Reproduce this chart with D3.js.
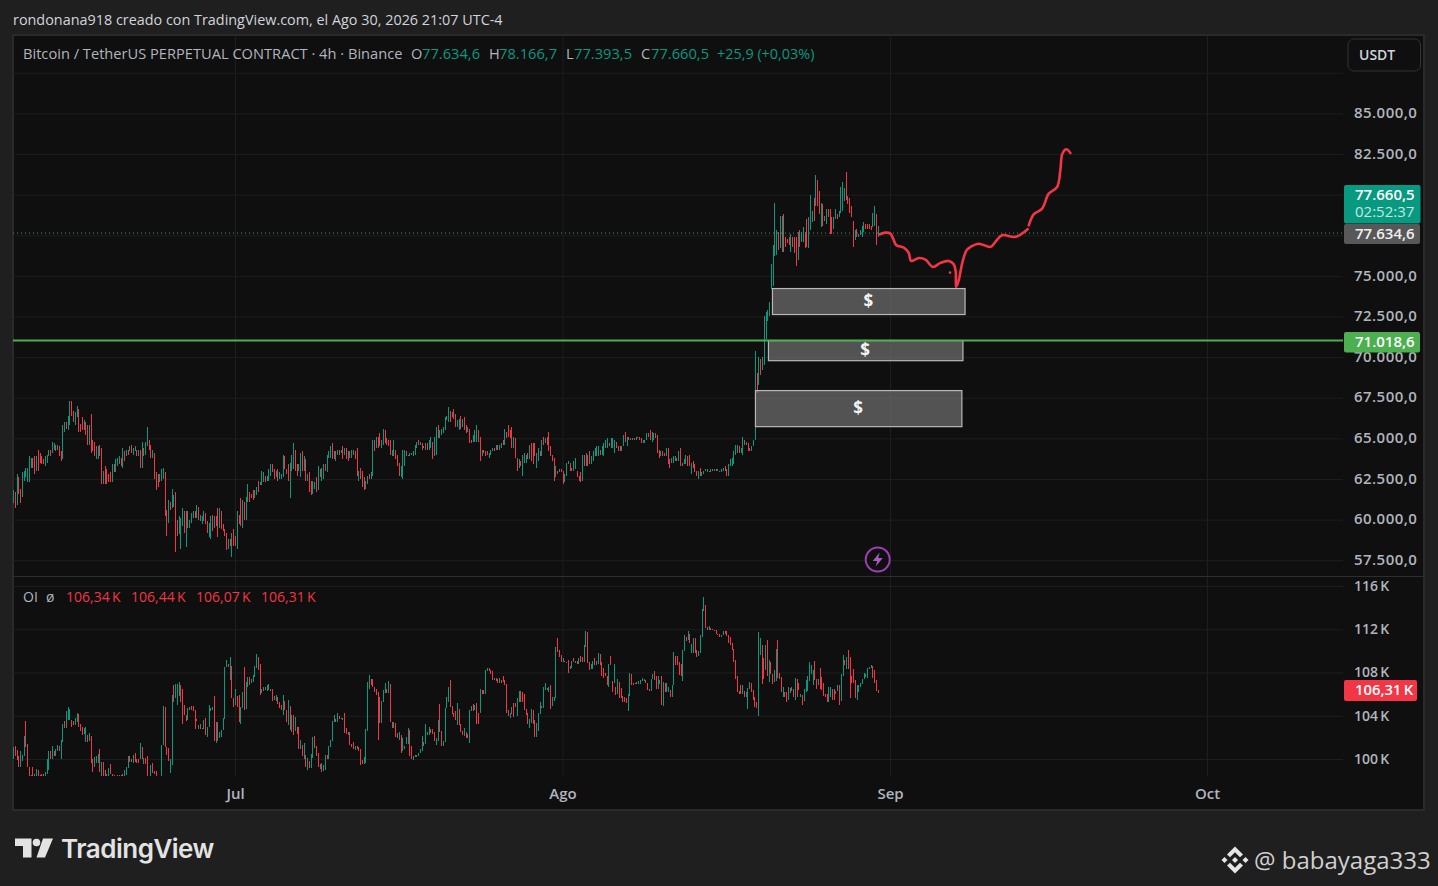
<!DOCTYPE html>
<html>
<head>
<meta charset="utf-8">
<title>BTCUSDT.P 4h</title>
<script src="https://cdnjs.cloudflare.com/ajax/libs/d3/7.8.5/d3.min.js"></script>
<style>
  html, body { margin: 0; background: #1f1f1f; overflow: hidden; }
  text { font-family: "Open Sans", sans-serif; }
</style>
</head>
<body>
<div class="chart"></div>
<script>
// each bar is [from, to]: from->to rising is teal, falling is red. price in thousands USDT
const priceJun = [[61.0,61.8],[61.7,60.7],[60.9,62.8],[62.6,61.6],[61.9,61.0],[61.4,62.9],[62.4,63.0],[62.6,63.2],[62.3,63.2],[62.3,63.9],
  [63.2,63.8],[63.8,63.2],[63.9,62.8],[63.0,63.9],[64.3,63.0],[64.1,63.5],[63.9,63.4],[63.7,63.4],[63.3,63.9],[63.5,64.0],
  [63.9,64.3],[64.3,63.9],[64.1,64.8],[64.3,64.7],[64.6,64.2],[64.3,64.6],[64.5,63.9],[64.2,63.6],[63.7,65.8],[65.4,66.0],
  [66.0,65.6],[65.5,66.4],[65.8,67.3],[67.3,66.4],[66.7,66.0],[65.8,66.6],[66.3,67.0],[66.8,65.4],[65.9,65.4],[66.3,65.5],[65.5,66.1],
  [66.0,65.2],[65.8,64.6],[64.6,65.8],[66.5,64.1],[64.9,64.2],[64.8,63.9],[63.7,64.5],[63.7,64.5],[64.6,63.9],[64.4,62.2],[62.2,63.0],
  [63.3,62.2],[63.1,62.2],[62.8,62.3],[62.9,62.3],[62.3,63.4],[63.4,62.9],[62.9,63.7],[63.3,63.8],[63.4,63.9],[63.8,63.3],[63.2,64.4],[64.2,63.6],
  [63.9,64.3],[64.3,64.0],[64.2,64.5],[64.6,64.1],[64.0,64.4],[64.2,64.5],[64.3,63.9],[63.9,64.3],[64.3,63.2],[63.2,64.8],[64.4,63.9],
  [64.0,64.8],[64.5,65.7],[64.9,64.3],[64.6,63.8],[63.8,64.3],[64.1,62.5],[62.9,61.8],[62.8,62.0],[62.3,62.8],
  [62.4,63.1],[62.5,63.2],[62.9,60.2],[60.6,59.0],[59.8,61.2],[61.1,60.6],[60.7,61.9],[60.8,61.5],
  [61.7,58.0],[60.0,59.0],[59.1,60.2],[58.2,60.1],[59.6,60.7],[60.5,59.2],[58.3,60.5],[60.5,59.5],[59.5,60.0],[59.8,60.4],
  [60.1,60.5],[60.5,60.1],[60.1,60.9],[60.8,60.0],[59.9,60.3],[59.7,60.2],[59.9,60.5],[60.4,59.7],[59.9,59.2],
  [58.9,59.8],[58.8,60.2],[60.3,59.3],[59.5,60.2],[60.2,59.6],[60.7,58.9],[59.5,60.7],[60.5,59.4],[59.7,59.3],
  [59.4,59.0],[59.2,58.1],[58.2,58.8],[58.8,58.4],[57.7,59.2],[59.4,58.4]];

const priceJul = [[59.0,58.4],[58.2,60.5],[60.3,59.7],[61.3,59.6],[59.5,61.2],[61.1,60.0],[60.0,61.4],[61.1,62.2],[61.7,61.1],[61.6,61.3],
  [61.8,61.2],[61.3,61.8],[61.5,62.0],[62.4,61.7],[62.1,62.3],[62.1,63.0],[62.3,62.9],[62.7,62.3],[62.4,62.7],[62.4,63.1],
  [62.7,63.4],[63.4,62.9],[63.1,62.5],[62.6,63.0],[63.1,62.4],[62.5,62.9],[62.5,62.8],[62.6,64.0],[63.9,63.1],[63.1,62.8],
  [63.4,62.4],[61.3,63.5],[63.0,64.0],[63.1,64.7],[64.3,63.0],[63.4,62.7],[63.0,63.4],[62.6,64.1],[64.2,63.0],[63.0,63.9],
  [63.7,62.4],[62.4,62.8],[62.9,61.7],[62.4,61.5],[61.6,62.4],[61.9,62.3],[62.6,61.7],[61.8,63.3],[63.1,62.6],[62.4,63.2],
  [62.5,63.4],[63.4,63.0],[62.9,64.0],[63.8,64.2],[63.8,64.5],[64.7,63.7],[64.2,63.7],[63.6,64.2],[64.0,64.3],[64.3,64.0],
  [64.1,64.3],[64.5,63.7],[64.0,64.4],[64.4,63.7],[64.2,63.6],[63.8,64.2],[63.8,64.3],[64.0,64.3],[64.2,63.7],[64.4,62.7],
  [62.4,63.0],[63.2,62.5],[63.0,62.0],[62.6,61.8],[61.9,62.4],[62.2,62.7],[62.8,62.5],[62.5,62.9],[62.7,64.9],[64.9,64.2],
  [64.4,65.1],[65.1,64.4],[65.3,64.5],[64.4,64.9],[64.6,65.6],[65.5,64.7],[65.0,64.6],[64.9,64.5],[64.9,64.0],[63.9,64.3],
  [63.9,64.9],[64.3,63.7],[64.0,63.3],[63.5,62.7],[62.6,63.3],[62.5,64.3],[63.3,64.3],[64.2,63.9],[64.0,63.9],[63.9,64.1],
  [64.0,64.1],[63.9,64.2],[64.0,64.6],[64.4,64.8],[64.9,64.6],[64.6,64.8],[64.7,64.3],[64.5,64.4],[64.3,64.7],[64.7,64.3],[64.3,64.9],
  [64.4,65.1],[64.8,63.7],[63.9,65.1],[64.0,65.7],[65.8,65.0],[65.0,65.5],[65.2,65.6],[65.3,65.7],[65.5,66.3],[66.1,66.4],[66.0,66.9],
  [66.7,66.0],[66.3,66.6],[66.8,66.2],[66.5,65.7],[65.7,66.1],[65.5,66.2],[66.4,65.6],[65.7,66.2],[66.3,65.5],[65.8,65.3],
  [65.4,65.7],[65.6,64.7],[64.9,64.7],[64.8,65.2],[64.8,65.5],[64.8,65.8],[65.5,64.8],[65.1,63.6],[63.9,64.3],[64.3,64.1],
  [64.2,63.9],[64.2,64.0],[63.8,64.1],[64.0,64.3],[64.2,64.4],[64.4,64.2],[64.3,64.6],[64.6,64.3],[64.3,64.6],[64.4,64.7],
  [64.9,64.6],[64.6,65.6],[65.4,65.0],[65.8,65.1],[65.5,65.0],[65.7,64.4],[64.4,65.1],[65.0,63.8],[63.8,63.0],[63.2,63.7],
  [63.6,63.3],[62.7,64.0],[63.5,64.1],[63.5,64.0],[64.1,63.7],[63.7,64.6],[64.7,63.6],[64.7,63.4],[64.7,63.9],[63.2,64.1],
  [63.6,64.4],[64.2,63.9],[63.9,64.9],[65.1,64.6],[64.7,65.0],[65.1,64.6],[65.4,64.2],[64.5,63.9],[64.0,63.6],[63.8,62.4],
  [62.6,63.3],[63.0,62.8],[62.9,63.1],[63.1,62.9]];

const priceAug = [[63.0,62.2],[62.3,62.8],[62.7,63.5],[63.4,63.6],[63.5,63.0],[63.2,63.0],[63.0,63.6],[63.1,63.8],[63.0,62.6],[62.7,62.4],
  [62.9,62.3],[62.4,64.0],[64.0,63.3],[63.3,64.1],[64.0,63.3],[64.2,63.4],[63.4,63.9],[63.6,64.2],[63.9,64.4],[63.9,64.5],
  [63.9,64.5],[64.3,64.0],[64.0,64.5],[63.9,64.7],[64.4,64.9],[64.4,65.0],[64.7,64.5],[64.4,65.0],[64.4,65.0],[64.1,64.9],
  [64.8,64.4],[64.5,64.2],[64.5,64.2],[64.2,64.5],[64.5,65.2],[65.4,64.8],[64.5,65.1],[65.1,64.9],[64.9,65.0],[65.0,64.9],
  [64.9,65.0],[64.9,65.1],[65.1,65.0],[65.1,64.9],[65.0,64.7],[64.7,64.9],[64.7,64.9],[64.9,65.3],[65.3,65.1],[65.5,64.9],
  [64.8,65.4],[64.9,65.3],[65.3,65.0],[65.2,64.1],[64.3,63.8],[63.9,64.2],[64.2,63.9],[64.1,63.9],[63.9,64.4],[64.4,63.4],
  [63.7,63.2],[63.5,63.8],[63.5,63.9],[63.6,63.9],[63.8,63.6],[63.6,64.2],[64.4,63.3],[63.3,63.5],[63.4,63.7],[63.4,64.0],[63.9,63.3],
  [64.0,63.3],[62.8,63.5],[63.6,63.2],[63.4,62.9],[63.0,62.7],[62.5,63.0],[63.2,62.7],[62.7,62.9],[62.8,63.0],[63.0,63.1],[62.9,63.1],
  [63.0,62.9],[62.9,63.1],[63.1,63.0],[63.0,63.1],[63.1,63.0],[63.0,63.1],[62.9,63.0],[62.9,63.1],[63.0,63.2],[63.3,63.0],[63.1,62.7],[62.7,63.4],
  [63.3,63.7],[63.3,63.8],[63.4,64.2],[64.0,64.6],[64.1,64.6],[64.5,64.1],[64.1,64.4],[64.0,65.1],[64.9,64.6],[64.6,64.8],
  [64.7,64.2],[64.4,64.2],[64.2,64.5],[64.5,64.9],
  [64.9,70.4],[69.0,67.8],[68.3,70.0],[69.9,68.9],[69.2,70.0],[69.5,72.5],[71.1,72.8],[72.2,72.9],[72.5,73.4],[74.2,75.7],
  [74.4,76.9],[76.2,79.5],[76.3,77.8],[77.7,76.6],[76.7,78.7],[76.5,78.7],[78.8,76.5],[77.4,76.8],[77.3,77.0],[77.4,76.9],[76.5,77.6],
  [77.4,76.8],[77.4,76.4],[77.4,75.6],[76.0,77.7],[77.8,76.8],[77.1,77.7],[77.1,78.0],[77.7,76.7],[78.5,76.8],[76.7,78.6],
  [77.8,80.0],[78.3,79.0],[79.8,78.4],[79.3,81.2],[80.9,79.3],[80.2,78.8],[78.0,79.5],[79.4,78.1],[78.4,78.7],[78.2,79.1],
  [79.1,78.6],[79.1,77.6],[78.6,77.6],[77.9,78.6],[78.5,79.1],[78.8,78.5],[78.6,79.0],[78.9,80.5],[79.0,80.8],[79.6,80.4],
  [81.4,79.7],[79.9,79.4],[79.8,78.9],[79.3,78.6],[78.4,76.8],[77.2,77.8],[77.9,77.4],[77.4,77.6],[77.5,77.8],[77.4,78.1],[77.7,78.3],[78.2,77.9],
  [78.2,77.9],[78.2,77.9],[78.1,77.8],[78.0,78.9],[78.1,79.3],[78.8,76.9],[77.4,78.1]];

// open interest in K
const oiJun = [[100.0,101.1],[101.2,100.3],[100.8,99.9],[100.3,99.3],[99.3,100.7],[99.8,100.4],[100.3,102.1],[103.5,101.1],[101.4,99.3],[99.3,98.4],
  [98.5,98.4],[99.3,98.4],[98.4,98.6],[98.4,99.1],[99.0,98.4],[98.5,98.4],[98.6,98.4],[98.6,98.4],[98.4,98.8],[98.6,100.0],
  [99.0,100.7],[100.7,100.0],[100.0,101.2],[100.7,100.3],[100.3,100.9],[100.7,101.3],[101.2,100.7],[100.0,101.8],[101.6,103.2],[103.5,102.9],
  [102.9,104.4],[103.6,104.8],[103.6,104.6],[103.6,103.0],[103.5,103.1],[103.1,103.8],[103.4,104.3],[104.2,103.0],[103.2,102.6],[103.0,102.2],
  [102.3,102.9],[101.6,103.0],[102.2,101.6],[101.7,102.4],[102.1,99.6],[100.0,98.8],[99.3,100.2],[99.6,100.3],[99.6,100.5],[100.9,98.8],
  [98.4,99.7],[99.7,98.4],[99.0,98.4],[98.4,98.6],[98.4,99.2],[99.5,98.6],[98.6,98.4],[98.5,98.4],[98.2,98.0],[98.5,98.4],
  [98.4,98.5],[98.5,98.4],[98.6,98.4],[98.4,99.0],[98.5,99.3],[99.2,100.3],[100.3,99.7],[100.0,99.7],[99.6,100.4],[100.6,99.7],
  [100.0,99.6],[100.0,99.6],[100.0,101.5],[101.1,100.0],[99.5,100.1],[100.1,99.5],[100.3,98.4],[98.2,98.0],[98.4,99.4],[99.6,98.7],
  [98.9,98.6],[98.9,98.4],[98.2,98.0],[98.0,98.3],[98.4,101.3],[101.3,104.9],[104.8,101.1],[101.1,100.4],[101.0,99.8],[98.7,100.0],
  [99.4,105.9],[106.8,105.3],[105.6,106.9],[105.0,106.9],[105.8,107.1],[106.8,105.3],[106.5,103.2],[105.0,104.1],[104.1,103.5],[103.6,104.7],
  [104.5,104.8],[104.9,104.5],[104.9,104.4],[104.5,102.8],[103.7,103.5],[102.8,103.1],[103.2,102.8],[102.8,102.9],[102.8,103.6],[103.8,102.2],
  [102.0,103.0],[103.0,105.0],[104.4,104.7],[104.5,104.8],[105.8,101.7],[101.5,103.4],[103.4,101.7],[101.9,102.5],[102.0,102.7],[102.7,103.8],
  [103.7,108.5],[108.5,109.2],[108.8,108.5],[107.3,109.4],[108.6,105.6],[105.6,104.8]];

const oiJul = [[105.0,106.5],[105.8,104.8],[105.9,103.4],[103.2,104.8],[104.7,106.2],[108.5,104.5],[104.6,107.1],[106.7,107.6],[107.6,106.8],[107.0,107.4],
  [107.1,107.8],[107.6,108.6],[108.4,109.7],[109.4,108.2],[108.8,105.9],[106.1,106.5],[106.3,106.7],[106.7,106.4],[106.3,106.8],[106.4,106.9],
  [106.5,106.3],[106.5,105.4],[105.5,105.8],[105.4,105.9],[105.7,105.1],[105.3,104.7],[105.0,104.5],[104.1,105.9],[105.4,104.5],[104.5,103.4],[103.1,105.5],
  [104.9,102.7],[102.5,104.1],[104.1,102.2],[102.6,103.9],[103.0,102.3],[103.0,100.9],[100.9,101.8],[101.3,100.3],[100.0,101.5],[100.4,99.3],[99.0,100.1],
  [99.8,99.2],[99.2,100.5],[100.1,102.0],[102.1,101.0],[101.2,100.3],[100.6,99.3],[99.1,99.5],[99.6,98.8],[98.9,99.4],[99.0,100.4],[100.4,100.0],
  [100.0,101.2],[101.1,101.8],[101.7,103.5],[103.4,104.1],[103.7,103.4],[103.4,104.3],[104.0,103.7],[103.8,103.7],[103.6,103.8],[104.3,102.4],[102.9,102.3],
  [102.2,102.5],[102.5,101.3],[101.4,101.1],[101.6,100.9],[100.8,101.2],[101.2,100.9],[101.1,100.7],[100.9,99.4],[99.9,99.5],[99.5,100.2],[99.6,102.8],
  [102.6,107.1],[106.5,107.8],[107.4,106.8],[107.4,106.7],[106.7,106.2],[106.5,105.9],[106.2,101.8],[105.7,103.3],[103.3,105.4],[105.3,106.4],
  [106.1,107.0],[106.5,106.1],[106.1,107.2],[106.9,103.4],[102.9,103.4],[103.4,102.9],[103.3,102.0],[102.4,101.9],[101.8,102.5],[102.2,100.6],[100.7,101.9],
  [100.9,101.2],[101.4,102.0],[101.4,102.9],[102.7,100.3],[101.2,100.0],[99.9,100.3],[100.4,100.2],[100.2,100.4],[100.3,100.6],[100.6,100.9],[100.7,102.1],
  [101.6,101.2],[101.4,103.2],[102.2,102.5],[102.2,103.0],[102.8,102.4],[102.8,102.3],[102.5,101.7],[101.3,101.9],[101.7,103.6],[105.1,102.5],
  [102.6,101.2],[101.2,101.7],[101.6,104.7],[104.7,105.7],[105.3,106.7],[107.3,104.8],[104.9,104.2],[104.3,103.9],[104.4,103.6],[103.1,105.2],
  [104.6,103.1],[103.2,102.5],[102.6,102.2],[102.1,102.9],[102.5,101.9],[102.3,101.9],[101.5,104.5],[104.4,104.9],[105.1,104.4],[104.5,105.0],
  [105.2,103.2],[104.3,103.2],[104.3,106.5],[106.4,106.0],[106.4,106.0],[106.0,108.2],[108.1,108.4],[108.4,108.1],[108.2,107.9],[108.1,107.3],
  [107.3,107.5],[107.5,107.2],[107.4,107.0],[107.0,107.5],[107.3,107.0],[107.7,107.1],[107.3,106.8],[106.9,104.3],[104.5,104.0],[103.8,104.3],[104.2,104.8],
  [105.2,103.9],[105.2,104.8],[104.0,105.6],[105.3,106.3],[106.3,105.3],[106.2,105.3],[106.0,104.5],[104.6,104.1],[104.3,103.2],[102.9,103.7],
  [103.3,104.6],[104.5,103.2],[103.6,102.0],[102.0,103.3],[102.6,104.3],[104.2,105.3],[104.9,104.7],[104.7,106.7],[106.4,107.0],[106.4,106.6],
  [106.2,106.7],[106.8,104.6],[104.9,105.7],[105.4,105.7],[105.6,110.4],[111.2,109.9],[110.1,109.4],[109.6,109.0]];

const oiAug = [[109.0,109.3],[109.1,109.0],[109.0,108.9],[109.2,108.0],[108.3,108.6],[108.4,109.1],[109.3,109.0],[108.9,109.1],[109.1,108.8],[108.8,109.3],
  [109.5,109.0],[109.4,109.0],[109.0,110.5],[110.4,111.8],[111.7,108.9],[109.0,108.2],[108.3,108.8],[108.3,109.1],[109.3,108.7],[108.7,109.1],
  [108.8,109.8],[109.7,108.7],[109.0,107.7],[108.4,107.5],[108.0,107.7],[107.7,106.8],[106.7,108.8],[109.5,108.7],[107.2,106.2],[107.0,108.8],
  [106.7,105.9],[106.0,107.4],[107.1,105.6],[106.6,105.6],[105.8,105.3],[105.7,105.3],[105.6,105.2],[104.4,106.0],[105.8,108.0],[107.9,106.8],
  [107.0,106.8],[107.0,106.9],[106.9,107.1],[106.9,107.2],[106.9,107.3],[107.2,107.5],[107.2,107.4],[107.3,107.0],[107.0,106.4],[106.5,106.3],
  [106.3,107.4],[107.4,107.9],[108.1,107.3],[107.7,106.5],[106.5,107.7],[106.9,107.3],[107.7,105.0],[104.9,107.1],[107.0,106.2],[106.2,107.0],
  [106.2,106.7],[106.4,105.7],[105.7,106.8],[106.8,109.9],[109.5,108.7],[109.5,108.7],[109.0,107.8],[108.8,107.7],[107.2,110.1],[110.0,111.5],
  [111.3,110.9],[111.0,111.8],[111.6,110.7],[109.8,110.6],[109.8,111.2],[111.2,109.8],[110.1,109.4],[109.5,110.0],[109.8,111.5],[111.3,113.9],
  [113.7,115.0],[114.2,112.1],[112.2,111.9],[111.9,112.3],[112.1,111.9],[112.0,111.9],[111.9,111.8],[111.9,111.6],[111.6,111.5],[111.6,111.3],
  [111.3,111.5],[111.5,111.8],[111.8,111.6],[111.8,111.4],[111.5,110.7],[111.3,110.5],[110.7,110.1],[110.2,109.0],[109.2,107.4],[107.7,106.2],[106.3,106.0],[106.8,106.0],
  [106.0,106.8],[106.3,105.7],[105.7,106.2],[104.6,106.6],[106.5,107.1],[107.0,106.2],[106.4,105.5],[105.7,104.8],[105.3,104.7],[104.0,111.7],
  [109.6,111.2],[110.5,106.9],[109.3,107.4],[108.2,110.5],[111.0,107.7],[107.1,109.2],[109.0,107.9],[107.9,106.9],[107.1,108.2],[107.2,110.2],
  [111.0,107.5],[108.0,107.4],[107.6,106.2],[105.7,106.7],[106.2,105.7],[106.2,105.3],[105.5,106.7],[106.1,106.6],[106.7,106.3],[106.5,105.7],
  [105.5,107.5],[107.4,105.7],[107.0,106.4],[105.7,106.0],[105.9,105.0],[105.4,106.5],[106.2,107.3],[106.3,107.7],[107.2,109.0],[107.9,108.7],
  [106.8,108.2],[109.1,107.3],[107.4,106.5],[106.8,107.4],[108.4,106.5],[107.6,106.4],[107.0,105.8],[106.0,105.7],[106.0,105.3],[105.3,106.7],
  [105.7,106.7],[106.5,105.5],[106.5,105.5],[106.0,106.3],[106.3,106.8],[106.8,105.0],[105.4,107.9],[107.7,109.6],[109.2,108.7],[108.3,109.4],[110.1,108.3],
  [109.4,105.6],[107.7,107.0],[108.3,107.0],[107.3,105.6],[105.5,106.8],[106.2,106.8],[106.7,107.0],[106.9,107.4],[107.4,108.0],[107.6,107.9],
  [107.5,108.4],[108.3,108.5],[108.4,108.7],[108.6,107.5],[108.2,107.0],[107.3,106.3],[106.4,106.1]];

// hand drawn red path: days after Aug 1, price in thousands
const sketchDays1 = [30.03,30.56,31.04,31.29,31.6,32.3,32.77,32.99,33.72,34.35,35.07,35.77,36.56,37.03,37.22,37.25,37.5,37.82,38.23,38.61,39.4,40.5,40.97,41.6,42.86,44.03];
const sketchPrice1 = [77.56,77.66,77.6,77.29,76.88,76.74,76.41,75.92,76.1,76.0,75.55,75.8,75.92,75.71,75.24,74.32,74.73,75.75,76.57,76.78,76.98,76.78,77.09,77.5,77.4,77.87];
const sketchDays2 = [44.13,44.6,45.39,46.02,46.81,47.12,47.31,47.69,48.07];
const sketchPrice2 = [78.11,78.79,79.14,80.06,80.47,81.5,82.52,82.79,82.56];

// grey $ zones: days after Aug 1, price in thousands
const zoneStart = [19.87,19.49,18.26];
const zoneEnd = [38.1,37.9,37.8];
const zoneTop = [74.22,71.02,67.94];
const zoneBottom = [72.62,69.78,65.72];

const priceTicks = [60,62.5,65,67.5,70,72.5,75,77.5,80,82.5,85];
const priceLabelTicks = [57.5,60,62.5,65,67.5,70,72.5,75,82.5,85];
const oiTicks = [100,104,108,112,116];
const monthDates = [new Date(Date.UTC(2026,6,1)),new Date(Date.UTC(2026,7,1)),new Date(Date.UTC(2026,8,1)),new Date(Date.UTC(2026,9,1))];
const monthLabels = ["Jul","Ago","Sep","Oct"];
const lastClose = 77660.5/1000, lastOpen = 77634.6/1000, greenLevel = 71018.6/1000, lastOI = 106.31;
const oiHeader = ["106,34 K","106,44 K","106,07 K","106,31 K"];

const teal = "#089981", red = "#f23645";
const width = 1438, height = 886;
const chart = ({ left: 13, right: 1343, top: 35, bottom: 776, edge: 1424, foot: 810 });

const svg = d3.select(".chart").append("svg")
    .attr("width", width)
    .attr("height", height)
    .style("display", "block");

// scales
const xScale = d3.scaleTime().domain([monthDates[0], monthDates[3]]).range([235, 1207]);
const yPrice = d3.scaleLinear().domain([57.5, 85]).range([560.2, 113.4]);
const yOI = d3.scaleLinear().domain([100, 116]).range([759, 586]);

// number format like 85.000,0
const esFormat = d3.formatLocale({ decimal: ",", thousands: ".", grouping: [3], currency: ["", ""] });
const fmtPrice = v => esFormat.format(",.1f")(v * 1000);

// stamps a month of bars evenly between two dates
function stamp(bars, start, end) {
    const step = (end - start) / bars.length;
    return bars.map((b, i) => ({ t: new Date(+start + i * step), from: b[0], to: b[1] }));
}
const jun10 = new Date(Date.UTC(2026,5,10));
const aug31 = new Date(Date.UTC(2026,7,31));
const priceBars = [...stamp(priceJun, jun10, monthDates[0]), ...stamp(priceJul, monthDates[0], monthDates[1]), ...stamp(priceAug, monthDates[1], aug31)];
const oiBars = [...stamp(oiJun, jun10, monthDates[0]), ...stamp(oiJul, monthDates[0], monthDates[1]), ...stamp(oiAug, monthDates[1], aug31)];
const afterAug1 = d => new Date(+monthDates[1] + d * 864e5);

// panel background
svg.append("rect").attr("x", chart.left).attr("y", chart.top)
    .attr("width", chart.edge - chart.left).attr("height", chart.foot - chart.top)
    .attr("fill", "#0f0f0f").attr("stroke", "#2a2a2a").attr("stroke-width", 2);

svg.append("defs").append("clipPath").attr("id", "oi-clip").append("rect")
    .attr("x", chart.left).attr("y", 577).attr("width", chart.right - chart.left).attr("height", chart.bottom - 577);

// vertical grid + month labels
const timeAxis = svg.append("g")
    .attr("transform", `translate(0,${chart.bottom})`)
    .call(d3.axisBottom(xScale).tickValues(monthDates).tickSize(-(chart.bottom - chart.top)).tickPadding(12)
        .tickFormat((d, i) => monthLabels[i]));
timeAxis.select(".domain").remove();
timeAxis.selectAll("line").attr("stroke", "#1e1e1e");
timeAxis.selectAll("text").attr("fill", "#b2b5be").attr("font-size", 15).attr("font-weight", 600)
    .style("font-family", "'Open Sans', sans-serif");

// price axis, 77.500 and 80.000 have no label in the picture, 87.500 is only a line
const priceAxis = svg.append("g")
    .attr("transform", `translate(${chart.right},0)`)
    .call(d3.axisRight(yPrice).tickValues([57.5, ...priceTicks, 87.5]).tickSize(-(chart.right - chart.left)).tickPadding(11)
        .tickFormat(d => priceLabelTicks.includes(d) ? fmtPrice(d) : ""));
priceAxis.select(".domain").remove();
priceAxis.selectAll("line").attr("stroke", "#1e1e1e");
priceAxis.selectAll("text").attr("fill", "#b2b5be").attr("font-size", 15).attr("font-weight", 600).attr("letter-spacing", .45)
    .attr("dy", ".28em")
    .style("font-family", "'Open Sans', sans-serif");

const oiAxis = svg.append("g")
    .attr("transform", `translate(${chart.right},0)`)
    .call(d3.axisRight(yOI).tickValues(oiTicks).tickSize(-(chart.right - chart.left)).tickPadding(11)
        .tickFormat(d => d + "\u2009K"));
oiAxis.select(".domain").remove();
oiAxis.selectAll("line").attr("stroke", "#1e1e1e");
oiAxis.selectAll("text").attr("fill", "#b2b5be").attr("font-size", 14).attr("font-weight", 600)
    .style("font-family", "'Open Sans', sans-serif");

// pane separator
svg.append("line").attr("x1", chart.left).attr("x2", chart.edge).attr("y1", 576.5).attr("y2", 576.5)
    .attr("stroke", "#2e2e2e");

// candles
svg.append("g").selectAll("rect")
    .data(priceBars)
    .join("rect")
    .attr("x", d => Math.round(xScale(d.t)))
    .attr("width", 1)
    .attr("y", d => yPrice(Math.max(d.from, d.to)))
    .attr("height", d => Math.max(1, Math.abs(yPrice(d.from) - yPrice(d.to))))
    .attr("fill", d => d.to >= d.from ? teal : red)
    .attr("shape-rendering", "crispEdges");

svg.append("g").attr("clip-path", "url(#oi-clip)").selectAll("rect")
    .data(oiBars)
    .join("rect")
    .attr("x", d => Math.round(xScale(d.t)))
    .attr("width", 1)
    .attr("y", d => yOI(Math.max(d.from, d.to)))
    .attr("height", d => Math.max(1, Math.abs(yOI(d.from) - yOI(d.to))))
    .attr("fill", d => d.to >= d.from ? teal : red)
    .attr("shape-rendering", "crispEdges");

// dotted line for last open
svg.append("line").attr("x1", chart.left).attr("x2", chart.right)
    .attr("y1", yPrice(lastOpen)).attr("y2", yPrice(lastOpen))
    .attr("stroke", "#4f8f82").attr("stroke-dasharray", "1 3");

// $ zones
const zones = d3.range(zoneStart.length);
svg.append("g").selectAll("rect")
    .data(zones)
    .join("rect")
    .attr("x", i => xScale(afterAug1(zoneStart[i])))
    .attr("y", i => yPrice(zoneTop[i]))
    .attr("width", i => xScale(afterAug1(zoneEnd[i])) - xScale(afterAug1(zoneStart[i])))
    .attr("height", i => yPrice(zoneBottom[i]) - yPrice(zoneTop[i]))
    .attr("fill", "#808080").attr("fill-opacity", .6)
    .attr("stroke", "#b8b8b8").attr("stroke-width", 1.2);

svg.append("g").selectAll("text")
    .data(zones)
    .join("text")
    .attr("x", i => (xScale(afterAug1(zoneStart[i])) + xScale(afterAug1(zoneEnd[i]))) / 2 - .5)
    .attr("y", i => (yPrice(zoneTop[i]) + yPrice(zoneBottom[i])) / 2)
    .attr("dy", ".3em")
    .attr("text-anchor", "middle")
    .attr("fill", "#f2f2f2").attr("font-size", 17).attr("font-weight", 700)
    .text("$");

// green level
svg.append("line").attr("x1", chart.left).attr("x2", chart.right)
    .attr("y1", yPrice(greenLevel)).attr("y2", yPrice(greenLevel))
    .attr("stroke", "#4caf50").attr("stroke-width", 2);

// red sketch
const sketchLine = d3.line().x(d => xScale(afterAug1(d[0]))).y(d => yPrice(d[1])).curve(d3.curveCatmullRom.alpha(.5));
[[sketchDays1, sketchPrice1], [sketchDays2, sketchPrice2]].forEach(([days, prices]) => {
    svg.append("path")
        .attr("d", sketchLine(days.map((d, i) => [d, prices[i]])))
        .attr("fill", "none").attr("stroke", red).attr("stroke-width", 2.6)
        .attr("stroke-linecap", "round").attr("stroke-linejoin", "round");
});
svg.append("circle").attr("cx", xScale(afterAug1(36.68))).attr("cy", yPrice(75.2)).attr("r", 1.3).attr("fill", red);

// lightning marker
const bolt = svg.append("g").attr("transform", `translate(${xScale(new Date(Date.UTC(2026,7,30,20)))},559.5)`);
bolt.append("circle").attr("r", 12).attr("fill", "#0f0f0f").attr("stroke", "#9c3fb5").attr("stroke-width", 2);
bolt.append("path").attr("d", "M2,-7 L-5,1.5 L-0.5,1.5 L-2,7 L5,-1.5 L0.5,-1.5 Z").attr("fill", "#a85cc0");

// header texts
function label(x, y, txt, fill, size, weight) {
    return svg.append("text").attr("x", x).attr("y", y).attr("dy", ".36em")
        .attr("fill", fill).attr("font-size", size || 14).attr("font-weight", weight || 400).text(txt);
}
label(13, 19.5, "rondonana918 creado con TradingView.com, el Ago 30, 2026 21:07 UTC-4", "#d1d4dc", 14.4);
label(23, 54, "Bitcoin / TetherUS PERPETUAL CONTRACT · 4h · Binance", "#b2b5be", 14.65);
label(411, 54, "O", "#b2b5be", 14.6); label(422, 54, "77.634,6", teal, 14.7);
label(489, 54, "H", "#b2b5be", 14.6); label(499, 54, "78.166,7", teal, 14.7);
label(566, 54, "L", "#b2b5be", 14.6); label(574, 54, "77.393,5", teal, 14.7);
label(641, 54, "C", "#b2b5be", 14.6); label(651, 54, "77.660,5", teal, 14.7);
label(717, 54, "+25,9 (+0,03%)", teal, 14.4);
label(23, 597, "OI", "#b2b5be"); label(46, 597, "ø", "#b2b5be");
oiHeader.forEach((t, i) => label(66 + i * 65, 597, t.replace(" ", "\u2009"), red));

// USDT button
svg.append("rect").attr("x", 1348).attr("y", 39).attr("width", 72.5).attr("height", 32).attr("rx", 6)
    .attr("fill", "none").attr("stroke", "#333");
label(1359, 55, "USDT", "#d1d4dc", 14, 600);

// price tags
function tag(y0, y1, w, fill) {
    svg.append("rect").attr("x", 1344).attr("y", y0).attr("width", w).attr("height", y1 - y0).attr("rx", 2).attr("fill", fill);
}
tag(185, 223.5, 76.5, teal);
label(1355, 195, fmtPrice(lastClose), "#fff", 15, 600);
label(1355, 212, "02:52:37", "#c4e8e0", 15, 400);
tag(224, 244, 76, "#585858");
label(1355, 234, fmtPrice(lastOpen), "#f0f0f0", 15, 600);
tag(332, 352.5, 76, "#4caf50");
label(1355, 341.5, fmtPrice(greenLevel), "#fff", 15, 600);
tag(680, 701, 73, red);
label(1355, 690, d3.format(".2f")(lastOI).replace(".", ",") + "\u2009K", "#fff", 14.8, 600);

// TradingView logo
const logo = svg.append("g").attr("fill", "#e3e3e3");
logo.append("path").attr("d", "M15,838.5 H31.5 V857.5 H23 V846 H15 Z");
logo.append("circle").attr("cx", 36.5).attr("cy", 842.5).attr("r", 3.8);
logo.append("path").attr("d", "M43,838.5 H53 L45,857.5 H36.5 Z");
svg.append("text").attr("x", 61).attr("y", 858).attr("fill", "#e3e3e3")
    .attr("font-size", 26).attr("font-weight", 600).style("font-family", "Inter, sans-serif").attr("letter-spacing", -.5)
    .text("TradingView");

// Binance square watermark
const mark = svg.append("g").attr("transform", "translate(1235,860)").attr("fill", "#e6e6e6");
mark.append("path").attr("d", "M0,-13.5 L8,-5.5 L5,-2.8 L0,-7.8 L-5,-2.8 L-8,-5.5 Z");
mark.append("path").attr("d", "M0,13.5 L8,5.5 L5,2.8 L0,7.8 L-5,2.8 L-8,5.5 Z");
mark.append("path").attr("d", "M0,-3 L3,0 L0,3 L-3,0 Z");
mark.append("path").attr("d", "M-10.5,-3 L-13.5,0 L-10.5,3 L-7.5,0 Z");
mark.append("path").attr("d", "M10.5,-3 L13.5,0 L10.5,3 L7.5,0 Z");
svg.append("text").attr("x", 1254).attr("y", 869).attr("fill", "#d0d0d0")
    .attr("font-size", 24).style("font-family", "'Open Sans', sans-serif")
    .text("@ babayaga333");
</script>
</body>
</html>
